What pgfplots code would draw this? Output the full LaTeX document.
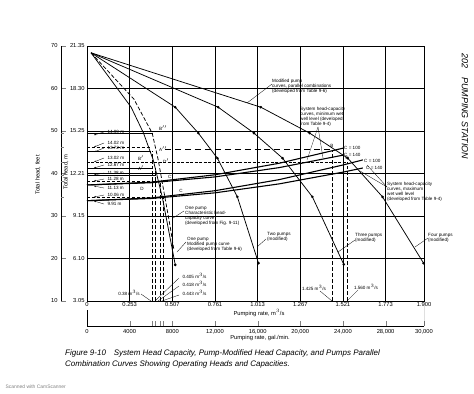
\documentclass[border=0pt]{standalone}
\usepackage{pgfplots}
\pgfplotsset{compat=1.18}
\usepackage{fontspec}
\setmainfont{Liberation Sans}
\usetikzlibrary{arrows.meta}
\newcommand{\tf}{\fontsize{4.6}{5.1}\selectfont}
\newcommand{\sz}{\fontsize{5.8}{6.3}\selectfont}
\begin{document}
\begin{tikzpicture}[x=1bp,y=1bp]
\useasboundingbox (0,0) rectangle (474,393);
% ---------------- main axis
\begin{axis}[at={(87bp,92bp)}, anchor=south west, width=337bp, height=255bp, scale only axis,
  xmin=0, xmax=31600, ymin=10, ymax=70, clip=false, scaled ticks=false,
  xtick={0,4000,8000,12000,16000,20000,24000,28000,31600},
  xticklabels={0,0.253,0.507,0.761,1.013,1.267,1.521,1.773,1.900},
  ytick={10,20,30,40,50,60,70},
  yticklabels={3.05,6.10,9.15,12.21,15.25,18.30,21.35},
  grid=major, major grid style={black, line width=0.55pt},
  axis line style={line width=0.7pt}, tick style={draw=none},
  ticklabel style={font=\sz}, xticklabel style={yshift=2bp}, yticklabel style={xshift=1bp},
  /pgf/number format/assume math mode=true]
% system curves
\addplot[line width=1.1pt] coordinates {(0,37.3) (6000,37.95) (12000,39.7) (18000,42.4) (24077,46.0)};
\addplot[line width=1.1pt] coordinates {(0,37.3) (6000,37.83) (12000,39.2) (18000,41.38) (24077,44.35)};
\addplot[line width=1.1pt] coordinates {(0,33.6) (6000,34.25) (12000,35.95) (18000,38.55) (24000,42.0) (25864,43.2)};
\addplot[line width=1.1pt] coordinates {(0,33.6) (6000,34.12) (12000,35.45) (18000,37.55) (24000,40.32) (25864,41.3)};
% pump curves
\addplot[line width=0.75pt, mark=*, mark size=0.9pt, mark indices={2,3,4,5,6}] coordinates {(376,68.4) (16300,55.6) (20880,49.5) (24452,43.6) (27712,34.5) (31560,18.9)};
\addplot[line width=0.75pt, mark=*, mark size=0.9pt, mark indices={2,3,4,5,6}] coordinates {(376,68.4) (12300,55.6) (15660,49.5) (18340,43.6) (21136,34.5) (24077,18.6)};
\addplot[line width=0.75pt, mark=*, mark size=0.9pt, mark indices={2,3,4,5,6}] coordinates {(376,68.4) (8276,55.6) (10440,49.5) (12227,43.6) (14100,34.5) (16083,18.9)};
\addplot[line width=0.75pt, mark=*, mark size=0.9pt, mark indices={6}] coordinates {(376,68.4) (4138,55.6) (5300,49.5) (6207,43.2) (7054,34.5) (8276,18.5)};
\addplot[line width=0.75pt, dash pattern=on 4pt off 2pt] coordinates {(376,68.4) (4400,57.5) (6113,49.5) (6678,43.2) (7806,27.4) (8150,22)};
% head lines
\addplot[line width=0.45pt] coordinates {(0,49.5) (6200,49.5)};
\addplot[line width=0.5pt, dash pattern=on 3pt off 2pt] coordinates {(0,46.2) (5925,46.2)};
\addplot[line width=0.45pt] coordinates {(0,45.3) (6000,45.3)};
\addplot[line width=0.55pt, dash pattern=on 6pt off 4pt] coordinates {(7300,45.6) (23030,45.6)};
\addplot[line width=0.8pt, dash pattern=on 3pt off 1.5pt] coordinates {(0,42.7) (24440,42.7)};
\addplot[line width=0.45pt] coordinates {(0,41.3) (6110,41.3)};
\addplot[line width=0.45pt] coordinates {(0,39.6) (6500,39.6)};
\addplot[line width=0.5pt, dash pattern=on 3pt off 2pt] coordinates {(0,38.2) (6800,38.2)};
\addplot[line width=0.5pt, dash pattern=on 3pt off 2pt] coordinates {(0,34.5) (7150,34.5)};
% vertical drop lines
\addplot[line width=0.55pt, dash pattern=on 4pt off 2pt] coordinates {(6110,10) (6110,45.3)};
\addplot[line width=0.55pt, dash pattern=on 4pt off 2pt] coordinates {(6400,10) (6400,41.3)};
\addplot[line width=0.55pt, dash pattern=on 4pt off 2pt] coordinates {(6866,10) (6866,38.2)};
\addplot[line width=0.55pt, dash pattern=on 4pt off 2pt] coordinates {(7148,10) (7148,34.5)};
\addplot[line width=0.55pt, dash pattern=on 4pt off 2pt] coordinates {(23030,10) (23030,45.6)};
\addplot[line width=0.55pt, dash pattern=on 4pt off 2pt] coordinates {(24440,10) (24440,42.7)};
\end{axis}
% ---------------- feet axis
\begin{axis}[at={(61bp,92bp)}, anchor=south west, width=1bp, height=255bp, scale only axis,
  xmin=0, xmax=1, ymin=10, ymax=70, axis y line*=left, hide x axis,
  ytick={10,20,30,40,50,60,70}, tick align=inside, major tick length=5bp,
  extra y ticks={49.5,46.2,42.7,39.6,38.2,34.5}, extra y tick labels={},
  extra y tick style={major tick length=3bp},
  ticklabel style={font=\sz}, axis line style={line width=0.7pt},
  /pgf/number format/assume math mode=true]
\end{axis}
% ---------------- gal/min axis
\begin{axis}[at={(87bp,67bp)}, anchor=south west, width=337bp, height=30bp, scale only axis,
  xmin=0, xmax=31600, ymin=0, ymax=1, axis x line*=bottom, hide y axis, scaled ticks=false,
  xtick={0,4000,8000,12000,16000,20000,24000,28000,31600},
  xticklabels={0,4000,8000,{12,000},{16,000},{20,000},{24,000},{28,000},{30,000}},
  extra x ticks={6110,6400,6866,7148}, extra x tick labels={},
  tick align=inside, major tick length=5bp, ticklabel style={font=\sz},
  axis line style={line width=0.7pt}, /pgf/number format/assume math mode=true]
\draw[line width=0.7pt] (rel axis cs:0,0) -- (rel axis cs:0,0.55);
\draw[line width=0.7pt] (rel axis cs:1,0) -- (rel axis cs:1,1);
\end{axis}
% ---------------- texts
\node[rotate=90, font=\sz] at (38,218) {Total head, feet};
\node[rotate=90, font=\sz] at (66,221) {Total head, m};
\node[font=\sz] at (259,80) {Pumping rate, m$^3$/s};
\node[font=\sz] at (260,55) {Pumping rate, gal./min.};
% head labels
\foreach \t/\yy/\ly in {14.99/261/258, 14.02/250/246, 13.72/245/241, 13.02/235/231, 12.67/228/225, 11.38/220/218, 11.28/214/212, 11.13/205/207, 10.06/198/196, 9.91/189/192}{
  \node[font=\tf, anchor=west] at (104,\yy) {\t\ m};
  \draw[-{Stealth[length=2pt,width=1.5pt]}, line width=0.3pt] (104,\yy) -- (94,\ly);
}
% point labels
\foreach \t/\px/\py in {B$''$/163/265, A$''$/163/244, B$'$/141/235, D$'$/166/232, A$'$/141/225, C$'$/171/217, D/142/204, C/181/202, B/332/247, C/347/235}{
  \node[font=\tf, inner sep=0.5pt] at (\px,\py) {\t};
}
% annotations
\node[font=\tf, anchor=north west, align=left, inner sep=0] at (272,314) {Modified pump\\curves, parallel combinations\\(developed from Table 9-6)};
\draw[line width=0.3pt] (272,309) -- (247,290);
\node[font=\tf, anchor=north west, align=left, inner sep=0] at (300,286) {System head-capacity\\curves, minimum wet\\well level (developed\\from Table 9-4)};
\draw[line width=0.3pt] (318,266) -- (307,233);
\draw[line width=0.3pt] (318,266) -- (323,235);
\node[font=\tf, anchor=north west, align=left, inner sep=0] at (387,211) {System head-capacity\\curves, maximum\\wet well level\\(developed from Table 9-4)};
\draw[line width=0.3pt] (387,206) -- (360,222);
\draw[line width=0.3pt] (387,206) -- (367,228);
\node[font=\tf, anchor=west, inner sep=0] at (344,245) {C = 100};
\node[font=\tf, anchor=west, inner sep=0] at (344,238) {C = 140};
\node[font=\tf, anchor=west, inner sep=0] at (364,232) {C = 100};
\node[font=\tf, anchor=west, inner sep=0] at (366,225) {C = 140};
\node[font=\tf, anchor=north west, align=left, inner sep=0] at (267,161) {Two pumps\\(modified)};
\draw[line width=0.3pt] (266,154) -- (257,146);
\node[font=\tf, anchor=north west, align=left, inner sep=0] at (355,160) {Three pumps\\(modified)};
\draw[line width=0.3pt] (355,153) -- (338,141);
\node[font=\tf, anchor=north west, align=left, inner sep=0] at (428,160) {Four pumps\\(modified)};
\draw[line width=0.3pt] (428,155) -- (415,146);
\node[font=\tf, anchor=north west, align=left, inner sep=0] at (185,187) {One pump\\Characteristic head-\\capacity curve\\(developed from Fig. 9-11)};
\draw[line width=0.3pt] (184,182) -- (173,175);
\node[font=\tf, anchor=north west, align=left, inner sep=0] at (187,156) {One pump\\Modified pump curve\\(developed from Table 9-6)};
\draw[line width=0.3pt] (186,151) -- (177,141);
% flow labels
\node[font=\tf] at (129,100) {0.38 m$^3$/s};
\draw[line width=0.3pt] (141,99) -- (151,92);
\node[font=\tf, anchor=west] at (179,117) {0.405 m$^3$/s};
\draw[line width=0.3pt] (179,115) -- (155,92);
\node[font=\tf, anchor=west] at (179,109) {0.418 m$^3$/s};
\draw[line width=0.3pt] (179,107) -- (158,92);
\node[font=\tf, anchor=west] at (179,100) {0.443 m$^3$/s};
\draw[line width=0.3pt] (179,98) -- (162,92);
\node[font=\tf] at (314,105) {1.425 m$^3$/s};
\draw[line width=0.3pt] (320,102) -- (332,92);
\node[font=\tf] at (366,106) {1.560 m$^3$/s};
\draw[line width=0.3pt] (358,103) -- (347,92);
% caption
\node[font=\fontsize{8}{11}\selectfont\itshape, anchor=north west, align=left, inner sep=0] at (65,43) {Figure 9-10\quad System Head Capacity, Pump-Modified Head Capacity, and Pumps Parallel\\Combination Curves Showing Operating Heads and Capacities.};
\node[font=\fontsize{9}{10}\selectfont\itshape, rotate=-90, anchor=west, inner sep=0] at (465,340) {202\quad PUMPING STATION};
\node[font=\fontsize{5}{6}\selectfont, text=gray, anchor=west] at (2,6) {Scanned with CamScanner};
\end{tikzpicture}
\end{document}
